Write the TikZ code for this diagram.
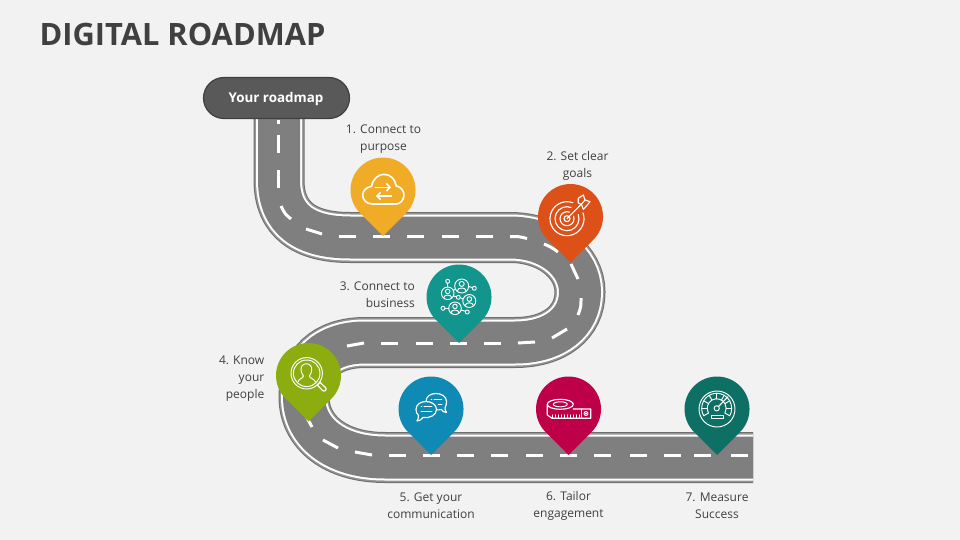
\documentclass[tikz,border=0pt]{standalone}
\usepackage{fontspec}
\setmainfont{Open Sans}
\usetikzlibrary{arrows.meta}
\definecolor{bgc}{HTML}{F2F2F2}
\definecolor{roadc}{HTML}{7F7F7F}
\definecolor{edgec}{HTML}{6E6E6E}
\definecolor{edgeb}{HTML}{959595}
\definecolor{txtc}{HTML}{404040}
\definecolor{pina}{HTML}{F0AB27}
\definecolor{pinb}{HTML}{DD5017}
\definecolor{pinc}{HTML}{12958C}
\definecolor{pind}{HTML}{8BAD0F}
\definecolor{pine}{HTML}{0E8AB5}
\definecolor{pinf}{HTML}{BE0049}
\definecolor{ping}{HTML}{0E6F65}
\tikzset{
  lab/.style={text=txtc,font=\fontsize{12}{17}\selectfont,inner sep=0pt},
  dashline/.style={draw=white,line width=3pt},
  ico/.style={draw=white,line width=1.15pt,line cap=round,line join=round},
  icofine/.style={draw=white,line width=0.95pt,line cap=round,line join=round},
}
\newcommand{\roadpin}[4]{%
  \coordinate (#1) at (#2,#3);
  \fill[#4,shift={(#2,#3)}] (0,46) -- (23,23) arc[start angle=45,end angle=-225,radius=32.5] -- cycle;}
\newcommand{\roadline}{(279,118) -- (279,180) .. controls (279,220) and (305,237.5) .. (350,237.5) -- (510,237.5) .. controls (550,237.5) and (580,262) .. (580,292) .. controls (580,322) and (555,342.5) .. (515,342.5) -- (365,342.5) .. controls (325,342.5) and (304,365) .. (304,397) .. controls (304,432) and (335,457.5) .. (385,457.5) -- (753,457.5)}
\newcommand{\dashc}[3]{\draw[dashline] (#1) .. controls (#2) .. (#3);}
\newcommand{\personat}[3]{% x y r
  \draw[icofine] (#1,#2) circle[radius=#3];
  \draw[icofine] (#1,#2-#3*0.3) circle[radius=#3*0.36];
  \draw[icofine] (#1-#3*0.62,#2+#3*0.68) .. controls (#1-#3*0.62,#2+#3*0.15) and (#1+#3*0.62,#2+#3*0.15) .. (#1+#3*0.62,#2+#3*0.68);}
\begin{document}
\begin{tikzpicture}[x=1pt,y=-1pt]
\useasboundingbox (0,0) rectangle (960,540);
\fill[bgc] (0,0) rectangle (960,540);
% road
\draw[edgec,line width=51pt] \roadline;
\draw[edgeb,line width=49pt] \roadline;
\draw[white,line width=46pt] \roadline;
\draw[roadc,line width=42pt] \roadline;
% centre dashes
\dashc{278,120}{278,122}{278,124}
\dashc{278,135}{278,144}{278,153}
\dashc{278,170}{278,179}{278,188}
\dashc{281,206}{285,214}{291,219}
\dashc{306,229}{314,232}{322,234}
\dashc{510,236.5}{519,236.5}{527,238.5}
\dashc{544,244}{551,247}{558,252}
\dashc{571,264}{575,271}{578,279}
\dashc{581,298}{581,307}{578,315}
\dashc{567,329}{560,334}{552,338}
\dashc{535,342}{527,343}{518,343}
\dashc{364,343}{355,344}{347,346}
\dashc{306,416}{309,422}{312,427}
\dashc{323,440}{330,444}{338,448}
\dashc{355,452}{363,454}{372,455}
\foreach \x in {339,373,407,442,476} {\draw[dashline] (\x,236.5) -- ++(17,0);}
\foreach \x in {381,416,450,484} {\draw[dashline] (\x,343) -- ++(17,0);}
\foreach \x in {389,423,457,491,526,560,594,630,664,694,731} {\draw[dashline] (\x,455) -- ++(17,0);}
% start button
\node[draw=txtc,line width=1.2pt,fill=black!65,rounded corners=20.5pt,minimum width=146pt,minimum height=41pt,inner sep=0pt] (start) at (276.5,98) {};
\node[text=white,font=\fontsize{13.4}{15}\selectfont\bfseries,inner sep=0pt] (starttext) at (276,99.5) {Your roadmap};
% pins
\roadpin{pa}{383}{190}{pina}
\roadpin{pb}{570.5}{216.5}{pinb}
\roadpin{pc}{459}{297}{pinc}
\roadpin{pd}{308.5}{375.5}{pind}
\roadpin{pe}{431}{409}{pine}
\roadpin{pf}{568.5}{409}{pinf}
\roadpin{pg}{717}{409}{ping}
% icon 1: cloud
\begin{scope}[shift={(383.3,189.2)},xscale=1.116,yscale=1.142,shift={(-381.5,-189)}]
\draw[draw=white,line width=1.6pt,line join=round] (372,202) .. controls (366,202) and (363,198) .. (363,194) .. controls (363,190) and (367,187) .. (371,186.5) .. controls (372,180) and (377,176) .. (382,176) .. controls (388,176) and (392,180) .. (393,186) .. controls (397,187) and (400,190) .. (400,194) .. controls (400,198) and (397,202) .. (393,202) -- cycle;
\end{scope}
\draw[white,line width=1.6pt,-{Straight Barb[length=3.5pt,width=7.5pt]}] (375,187.3) -- (391,187.3);
\draw[white,line width=1.6pt,-{Straight Barb[length=3.5pt,width=7.5pt]}] (391.5,196) -- (376,196);
% icon 2: target
\draw[ico] (567,218.7) ++(-20:17) arc[start angle=-20,end angle=290,radius=17];
\draw[ico] (567,218.7) ++(-20:12) arc[start angle=-20,end angle=290,radius=12];
\draw[ico] (567,218.7) ++(-20:7) arc[start angle=-20,end angle=290,radius=7];
\draw[ico] (567,218.7) circle[radius=3];
\draw[ico] (567,218.7) -- (582,203.5);
\draw[ico] (578.3,198.3) -- (583.3,195) -- (585,200) -- (590,201.7) -- (586,206.5) -- (583.3,209.3) -- (581.5,204.5) -- (578.3,203) -- cycle;
\draw[ico] (582,203.5) -- (585,200);
% icon 3: network
\personat{447.7}{293.3}{6.3}
\personat{461.7}{286}{7}
\personat{469.3}{301}{6.5}
\personat{455}{308.3}{6.3}
\foreach \p in {(447.7,281.3),(474.3,288.3),(458.3,297.3),(443,308.3),(467.3,312)}
  {\draw[icofine] \p circle[radius=2];}
\draw[icofine] (447.7,283.3) -- (447.7,287);
\draw[icofine] (468.5,286.5) -- (472.4,287.6);
\draw[icofine] (453.3,290.5) -- (455.3,289);
\draw[icofine] (445,308.3) -- (448.7,308.3);
\draw[icofine] (461,310) -- (465.4,311.3);
\draw[icofine] (453.5,296) -- (456.5,296.8);
\draw[icofine] (460.2,297.6) -- (463,299);
% icon 4: search person
\draw[icofine] (306.7,373.3) circle[radius=15.7];
\draw[icofine] (306.7,373.3) circle[radius=13.3];
\begin{scope}[shift={(2.4,0.5)}]
\draw[icofine] (295.5,381.5) .. controls (296,378) and (301,378) .. (301,375.5) .. controls (298.5,372) and (298,368) .. (299.5,365.5) .. controls (301,362.5) and (307,362.5) .. (308.5,365.5) .. controls (310,368) and (309.5,372) .. (307,375.5) .. controls (307,378) and (312,378) .. (313,381.5);
\end{scope}
\draw[ico] (317.3,385) -- (322.5,390.5) .. controls (324.5,392.5) and (327.5,389.5) .. (325.5,387.5) -- (320,382.3) -- cycle;
% icon 5: chat
\draw[ico] (445,408) .. controls (445,409.5) and (445.5,411) .. (446.5,412.5) .. controls (444,412.5) and (442,411) .. (441.5,409.5) .. controls (434,411) and (426,408) .. (426,401.5) .. controls (426,396.5) and (430.5,393.5) .. (436,393.5) .. controls (441.5,393.5) and (446.5,396.5) .. (446.5,401.5) .. controls (446.5,404) and (446,406) .. (445,408);
\draw[ico,fill=pine] (418.5,415.5) .. controls (418.5,417.5) and (418,419.5) .. (417,421) .. controls (419.5,421) and (421.5,419.5) .. (423,417.5) .. controls (430,418.5) and (436.5,415) .. (436.5,409.5) .. controls (436.5,404.5) and (431.5,401.5) .. (426,401.5) .. controls (420.5,401.5) and (416,404.5) .. (416,409.5) .. controls (416,412) and (417,414) .. (418.5,415.5);
\draw[icofine] (421,406) -- (422,406) (424,406) -- (432,406);
\draw[icofine] (421,411.5) -- (432,411.5);
\draw[icofine] (431,399) -- (432,399) (434,399) -- (442,399);
\draw[icofine] (438,404) -- (442,404);
% icon 6: tape
\draw[ico] (560.3,404.3) ellipse[x radius=13,y radius=5];
\draw[icofine] (560.3,404.3) ellipse[x radius=7,y radius=2.5];
\draw[ico] (547.3,404.3) -- (547.3,415) -- (552,418.3) -- (590.7,418.3) -- (590.7,409) -- (573.3,409);
\draw[ico] (581.7,409) -- (581.7,418.3);
\draw[icofine] (586,413.5) circle[radius=2];
\draw[icofine] (586,413.5) circle[radius=0.6];
\foreach \x in {552,555,...,580} {\draw[icofine] (\x,414.8) -- (\x,418);}
% icon 7: gauge
\draw[icofine] (717,409) circle[radius=18];
\draw[icofine] (716.7,408.3) ++(150:15) arc[start angle=150,end angle=390,radius=15];
\draw[icofine] (716.7,408.3) ++(150:9.5) arc[start angle=150,end angle=390,radius=9.5];
\foreach \t in {150,180,...,390} {\draw[icofine] (716.7,408.3) ++(\t:9.5) -- ++(\t:5.5);}
\draw[icofine] (716.7,408.3) circle[radius=2.6];
\draw[ico] (718.5,406.5) -- (728,396.7);
\draw[ico] (711.7,415.7) rectangle (723.7,418.4);
% labels
\node[text=txtc,font=\fontsize{30.8}{36}\selectfont\bfseries,inner sep=0pt,anchor=base west] (title) at (39.5,45.5) {DIGITAL ROADMAP};
\node[lab,align=center] (la) at (383.5,139) {1. Connect to\\purpose};
\node[lab,align=center] (lb) at (577.5,165.5) {2. Set clear\\goals};
\node[lab,align=right,anchor=east] (lc) at (415,294.5) {3. Connect to\\business};
\node[lab,align=right,anchor=east] (ld) at (264.5,379) {4. Know\\your\\people};
\node[lab,align=center] (le) at (431,505.5) {5. Get your\\communication};
\node[lab,align=center] (lf) at (568.5,506) {6. Tailor\\engagement};
\node[lab,align=center] (lg) at (717,505.5) {7. Measure\\Success};
\end{tikzpicture}
\end{document}
